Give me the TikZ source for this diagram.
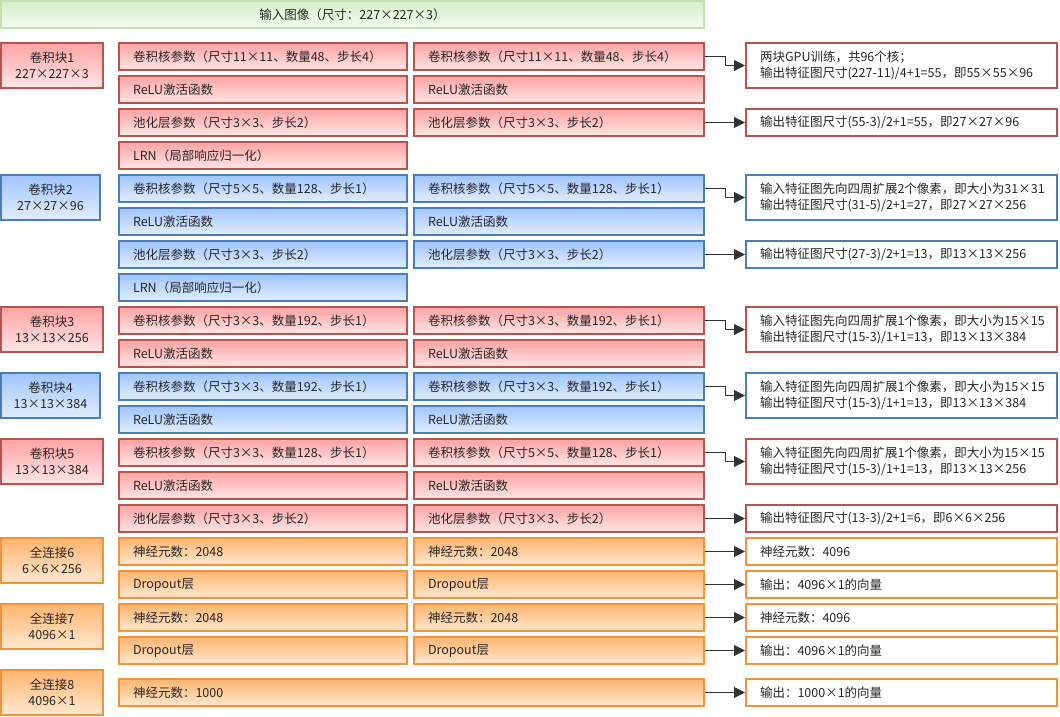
\documentclass[tikz,border=0pt]{standalone}
\usepackage{fontspec}
\setmainfont{Noto Sans CJK SC}
\usetikzlibrary{arrows.meta}

\definecolor{redline}{HTML}{B85450}
\definecolor{redtop}{HTML}{FFA3A3}
\definecolor{redbot}{HTML}{FFE6E6}
\definecolor{blueline}{HTML}{4A7EBB}
\definecolor{bluetop}{HTML}{A0C4FF}
\definecolor{bluebot}{HTML}{E2EEFF}
\definecolor{orgline}{HTML}{F2933A}
\definecolor{orgtop}{HTML}{FFB570}
\definecolor{orgbot}{HTML}{FFE8D0}
\definecolor{grnline}{HTML}{C3E0B0}
\definecolor{grntop}{HTML}{D5EFCA}
\definecolor{grnbot}{HTML}{F3FBEF}

\begin{document}
\begin{tikzpicture}[x=1pt,y=-1pt,
		font=\fontsize{12.5}{16}\selectfont, text=black!85,
		box/.style={draw,line width=2pt,inner xsep=14pt,inner ysep=2pt,align=left,minimum height=27pt},
		colA/.style={box,text width=260pt},
		colB/.style={box,text width=262pt},
		note/.style={box,fill=white,text width=283pt},
		blk/.style={draw,line width=2pt,align=center,inner sep=2pt,minimum height=45pt,minimum width=102pt},
		redfill/.style={draw=redline,top color=redtop,bottom color=redbot},
		bluefill/.style={draw=blueline,top color=bluetop,bottom color=bluebot},
		orgfill/.style={draw=orgline,top color=orgtop,bottom color=orgbot},
		arr/.style={draw=black!80,line width=1pt,-{Triangle[length=11pt,width=11pt]}}]
	\useasboundingbox (0,0) rectangle (1060,717);
	
	% input
	\node (in) [draw=grnline,line width=2pt,top color=grntop,bottom color=grnbot,minimum width=703pt,minimum height=27pt] at (352.5,14.5) {输入图像（尺寸：227×227×3）};
	
	% conv 1
	\begin{scope}[every node/.append style={redfill}]
		\node (blk1) [blk] at (52,65.5) {卷积块1\\227×227×3};
		\node (a0) [colA] at (263,56.5) {卷积核参数（尺寸11×11、数量48、步长4）};
		\node (a1) [colA] at (263,89.5) {ReLU激活函数};
		\node (a2) [colA] at (263,122.5) {池化层参数（尺寸3×3、步长2）};
		\node (a3) [colA] at (263,155.5) {LRN（局部响应归一化）};
		\node (b0) [colB] at (559,56.5) {卷积核参数（尺寸11×11、数量48、步长4）};
		\node (b1) [colB] at (559,89.5) {ReLU激活函数};
		\node (b2) [colB] at (559,122.5) {池化层参数（尺寸3×3、步长2）};
	\end{scope}
	\node (n0) [note,draw=redline,minimum height=45pt] at (901.5,65.5) {两块GPU训练，共96个核；\\输出特征图尺寸(227-11)/4+1=55，即55×55×96};
	\node (n2) [note,draw=redline] at (901.5,122.5) {输出特征图尺寸(55-3)/2+1=55，即27×27×96};
	
	% conv 2
	\begin{scope}[every node/.append style={bluefill}]
		\node (blk2) [blk,minimum width=99pt] at (50.5,197.5) {卷积块2\\27×27×96};
		\node (a4) [colA] at (263,188.5) {卷积核参数（尺寸5×5、数量128、步长1）};
		\node (a5) [colA] at (263,221.5) {ReLU激活函数};
		\node (a6) [colA] at (263,254.5) {池化层参数（尺寸3×3、步长2）};
		\node (a7) [colA] at (263,287.5) {LRN（局部响应归一化）};
		\node (b4) [colB] at (559,188.5) {卷积核参数（尺寸5×5、数量128、步长1）};
		\node (b5) [colB] at (559,221.5) {ReLU激活函数};
		\node (b6) [colB] at (559,254.5) {池化层参数（尺寸3×3、步长2）};
	\end{scope}
	\node (n4) [note,draw=blueline,minimum height=45pt] at (901.5,197.5) {输入特征图先向四周扩展2个像素，即大小为31×31\\输出特征图尺寸(31-5)/2+1=27，即27×27×256};
	\node (n6) [note,draw=blueline] at (901.5,254.5) {输出特征图尺寸(27-3)/2+1=13，即13×13×256};
	
	% conv 3
	\begin{scope}[every node/.append style={redfill}]
		\node (blk3) [blk] at (52,329.5) {卷积块3\\13×13×256};
		\node (a8) [colA] at (263,320.5) {卷积核参数（尺寸3×3、数量192、步长1）};
		\node (a9) [colA] at (263,353.5) {ReLU激活函数};
		\node (b8) [colB] at (559,320.5) {卷积核参数（尺寸3×3、数量192、步长1）};
		\node (b9) [colB] at (559,353.5) {ReLU激活函数};
	\end{scope}
	\node (n8) [note,draw=redline,minimum height=45pt] at (901.5,329.5) {输入特征图先向四周扩展1个像素，即大小为15×15\\输出特征图尺寸(15-3)/1+1=13，即13×13×384};
	
	% conv 4
	\begin{scope}[every node/.append style={bluefill}]
		\node (blk4) [blk,minimum width=99pt] at (50.5,395.5) {卷积块4\\13×13×384};
		\node (a10) [colA] at (263,386.5) {卷积核参数（尺寸3×3、数量192、步长1）};
		\node (a11) [colA] at (263,419.5) {ReLU激活函数};
		\node (b10) [colB] at (559,386.5) {卷积核参数（尺寸3×3、数量192、步长1）};
		\node (b11) [colB] at (559,419.5) {ReLU激活函数};
	\end{scope}
	\node (n10) [note,draw=blueline,minimum height=45pt] at (901.5,395.5) {输入特征图先向四周扩展1个像素，即大小为15×15\\输出特征图尺寸(15-3)/1+1=13，即13×13×384};
	
	% conv 5
	\begin{scope}[every node/.append style={redfill}]
		\node (blk5) [blk] at (52,461.5) {卷积块5\\13×13×384};
		\node (a12) [colA] at (263,452.5) {卷积核参数（尺寸3×3、数量128、步长1）};
		\node (a13) [colA] at (263,485.5) {ReLU激活函数};
		\node (a14) [colA] at (263,518.5) {池化层参数（尺寸3×3、步长2）};
		\node (b12) [colB] at (559,452.5) {卷积核参数（尺寸5×5、数量128、步长1）};
		\node (b13) [colB] at (559,485.5) {ReLU激活函数};
		\node (b14) [colB] at (559,518.5) {池化层参数（尺寸3×3、步长2）};
	\end{scope}
	\node (n12) [note,draw=redline,minimum height=45pt] at (901.5,461.5) {输入特征图先向四周扩展1个像素，即大小为15×15\\输出特征图尺寸(15-3)/1+1=13，即13×13×256};
	\node (n14) [note,draw=redline] at (901.5,518.5) {输出特征图尺寸(13-3)/2+1=6，即6×6×256};
	
	% fully connected
	\begin{scope}[every node/.append style={orgfill}]
		\node (blk6) [blk] at (52,560.5) {全连接6\\6×6×256};
		\node (a15) [colA] at (263,551.5) {神经元数：2048};
		\node (a16) [colA] at (263,584.5) {Dropout层};
		\node (b15) [colB] at (559,551.5) {神经元数：2048};
		\node (b16) [colB] at (559,584.5) {Dropout层};
		\node (blk7) [blk] at (52,626.5) {全连接7\\4096×1};
		\node (a17) [colA] at (263,617.5) {神经元数：2048};
		\node (a18) [colA] at (263,650.5) {Dropout层};
		\node (b17) [colB] at (559,617.5) {神经元数：2048};
		\node (b18) [colB] at (559,650.5) {Dropout层};
		\node (blk8) [blk] at (52,692.5) {全连接8\\4096×1};
		\node (a19) [box,text width=557pt] at (411.5,692.5) {神经元数：1000};
	\end{scope}
	\begin{scope}[every node/.append style={note,draw=orgline}]
		\node (n15) at (901.5,551.5) {神经元数：4096};
		\node (n16) at (901.5,584.5) {输出：4096×1的向量};
		\node (n17) at (901.5,617.5) {神经元数：4096};
		\node (n18) at (901.5,650.5) {输出：4096×1的向量};
		\node (n19) at (901.5,692.5) {输出：1000×1的向量};
	\end{scope}
	
	% arrows
	\draw [arr] (b0.east) -- ++(20,0) |- (n0.west);
	\draw [arr] (b4.east) -- ++(20,0) |- (n4.west);
	\draw [arr] (b8.east) -- ++(20,0) |- (n8.west);
	\draw [arr] (b10.east) -- ++(20,0) |- (n10.west);
	\draw [arr] (b12.east) -- ++(20,0) |- (n12.west);
	\begin{scope}[every edge/.style={arr}]
		\path (b2) edge (n2);
		\path (b6) edge (n6);
		\path (b14) edge (n14);
		\path (b15) edge (n15);
		\path (b16) edge (n16);
		\path (b17) edge (n17);
		\path (b18) edge (n18);
		\path (a19) edge (n19);
	\end{scope}
\end{tikzpicture}
\end{document}
